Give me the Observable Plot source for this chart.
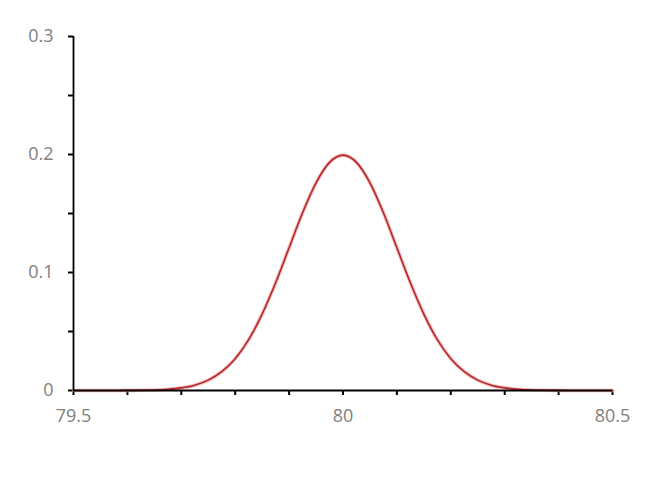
<!DOCTYPE html>
<html>
<head>
<meta charset="utf-8">
<script src="https://cdn.jsdelivr.net/npm/d3@7"></script>
<script src="https://cdn.jsdelivr.net/npm/@observablehq/plot@0.6"></script>
<style>
  html, body { margin: 0; padding: 0; background: #fff; }
  svg text { font-size: 18px; }
</style>
</head>
<body>
<div id="chart"></div>
<script>
// Curve values (x step 0.025)
const xs = [79.5, 79.525, 79.55, 79.575, 79.6, 79.625, 79.65, 79.675, 79.7, 79.725,
            79.75, 79.775, 79.8, 79.825, 79.85, 79.875, 79.9, 79.925, 79.95, 79.975,
            80, 80.025, 80.05, 80.075, 80.1, 80.125, 80.15, 80.175, 80.2, 80.225,
            80.25, 80.275, 80.3, 80.325, 80.35, 80.375, 80.4, 80.425, 80.45, 80.475, 80.5];
const ys = [0, 0, 0, 0, 0.0001, 0.0002, 0.0004, 0.0010, 0.0022, 0.0045,
            0.0088, 0.0159, 0.0270, 0.0431, 0.0648, 0.0913, 0.1210, 0.1506, 0.1760, 0.1933,
            0.1995, 0.1933, 0.1760, 0.1506, 0.1210, 0.0913, 0.0648, 0.0431, 0.0270, 0.0159,
            0.0088, 0.0045, 0.0022, 0.0010, 0.0004, 0.0002, 0.0001, 0, 0, 0, 0];

const xTicks = [79.5, 79.6, 79.7, 79.8, 79.9, 80, 80.1, 80.2, 80.3, 80.4, 80.5];
const xLabels = [79.5, 80, 80.5];
const yTicks = [0, 0.05, 0.1, 0.15, 0.2, 0.25, 0.3];
const yLabels = [0, 0.1, 0.2, 0.3];

const data = xs.map((x, i) => ({x, y: ys[i]}));
const fmt = d => String(+d.toFixed(3));

const chart = Plot.plot({
  width: 663,
  height: 479,
  marginTop: 36,
  marginRight: 51,
  marginBottom: 89,
  marginLeft: 73,
  style: {fontFamily: "'Open Sans', sans-serif", fontSize: "18px", background: "#fff"},
  x: {domain: [79.5, 80.5], label: null},
  y: {domain: [0, 0.3], label: null},
  marks: [
    Plot.axisX(xTicks, {tickSize: 5, tickFormat: () => "", stroke: "#000", strokeWidth: 2}),
    Plot.axisX(xLabels, {tickSize: 0, tickPadding: 19, tickFormat: fmt, fill: "#808080", fontSize: 18}),
    Plot.axisY(yTicks, {tickSize: 5, tickFormat: () => "", stroke: "#000", strokeWidth: 2}),
    Plot.axisY(yLabels, {tickSize: 0, tickPadding: 20, tickFormat: fmt, fill: "#808080", fontSize: 18}),
    Plot.line(data, {x: "x", y: "y", curve: "monotone-x", stroke: "#f2a0a0", strokeWidth: 3.6, strokeOpacity: 0.7}),
    Plot.line(data, {x: "x", y: "y", curve: "monotone-x", stroke: "#b3262b", strokeWidth: 1.6}),
    Plot.ruleX([79.5], {stroke: "#000", strokeWidth: 1.8}),
    Plot.ruleY([0], {stroke: "#000", strokeWidth: 1.8})
  ]
});
document.getElementById("chart").appendChild(chart);
</script>
</body>
</html>
